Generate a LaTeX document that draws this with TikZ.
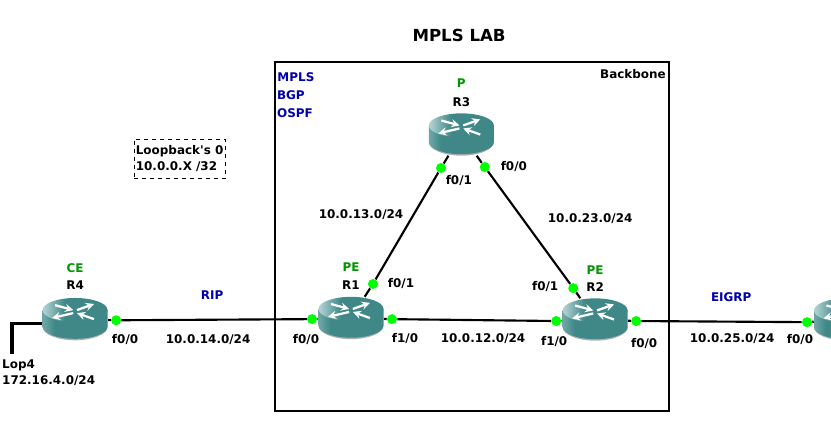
\documentclass[tikz,border=0pt]{standalone}
\usepackage{fontspec}
\setmainfont{DejaVu Sans}
\usepackage{tikz}
\usetikzlibrary{shapes.geometric, arrows}
\definecolor{routerteal}{RGB}{64,136,136}
\definecolor{routerlight}{RGB}{176,208,208}
\definecolor{routershadow}{RGB}{170,176,176}
\definecolor{protoblue}{RGB}{0,0,170}
\definecolor{rolegreen}{RGB}{0,150,0}
\pgfdeclarehorizontalshading{routertop}{100bp}{color(0bp)=(routerlight); color(26bp)=(routerlight); color(42bp)=(routerteal); color(100bp)=(routerteal)}
\pgfdeclarehorizontalshading{routerside}{100bp}{color(0bp)=(routerlight!40!routerteal); color(26bp)=(routerlight!40!routerteal); color(34bp)=(routerteal); color(100bp)=(routerteal)}
\tikzstyle{router} = [rectangle,
					  minimum width=1.72cm,
					  minimum height=1.11cm,
					  inner sep=0pt,
					 ]
\tikzstyle{port} = [circle,
					minimum size=0.265cm,
					inner sep=0pt,
					fill=green,
				   ]
\tikzstyle{lbl} = [font=\bfseries\fontsize{9}{12}\selectfont, inner sep=0pt]
\tikzstyle{proto} = [lbl, text=protoblue]
\tikzstyle{role} = [lbl, text=rolegreen]
\tikzstyle{area} = [rectangle, draw=black, line width=1.9pt,
					minimum width=10.42cm, minimum height=9.23cm]
\tikzstyle{note} = [rectangle, draw=black, dashed, thin, align=left, lbl,
					minimum width=2.41cm, minimum height=1.03cm]
\tikzstyle{link} = [line width=1.6pt]
\tikzstyle{stub} = [line width=2.4pt]
\tikzstyle{flow} = [white,line width=1.7pt,->,>=stealth]

\begin{document}
\begin{tikzpicture}[node distance=1cm]
\clip (-9.287,8.414) rectangle (12.700,-3.122);

\node (R1) [router] at (0,0) {};
\node (R4) [router, left of =R1, xshift=-6.30cm, yshift=-0.03cm] {};
\node (R2) [router, right of =R1, xshift=5.46cm, yshift=-0.04cm] {};
\node (R5) [router, right of =R2, xshift=5.65cm] {};
\node (R3) [router, above of =R1, xshift=2.92cm, yshift=3.855cm] {};
\node (backbone) [area, above of =R1, xshift=3.2cm, yshift=1.157cm] {};

\node (R4p) [port, right of =R4, xshift=0.085cm, yshift=-0.03cm] {};
\node (R1w) [port, left of =R1, xshift=-0.03cm, yshift=-0.03cm] {};
\node (R1e) [port, right of =R1, xshift=0.085cm, yshift=-0.03cm] {};
\node (R1n) [port, above of =R1, xshift=0.58cm, yshift=-0.10cm] {};
\node (R2w) [port, left of =R2, xshift=-0.03cm, yshift=-0.04cm] {};
\node (R2e) [port, right of =R2, xshift=0.085cm, yshift=-0.04cm] {};
\node (R2n) [port, above of =R2, xshift=-0.58cm, yshift=-0.17cm] {};
\node (R3w) [port, below of =R3, xshift=-0.54cm, yshift=0.114cm] {};
\node (R3e) [port, below of =R3, xshift=0.62cm, yshift=0.14cm] {};
\node (R5w) [port, left of =R5, xshift=-0.045cm, yshift=-0.07cm] {};

\node (lopcorner) [coordinate, left of =R4, xshift=-0.667cm, yshift=-0.106cm] {};
\node (lopend) [coordinate, below of =lopcorner, yshift=0.18cm] {};

\node (title) [lbl, font=\bfseries\fontsize{12.5}{15}\selectfont, above of =R1, xshift=2.86cm, yshift=6.488cm] {MPLS LAB};
\node (backbonelbl) [lbl, right of =backbone, xshift=3.26cm, yshift=4.30cm] {Backbone};
\node (mpls) [proto, left of =backbone, xshift=-3.657cm, yshift=4.22cm] {MPLS};
\node (bgp) [proto, left of =backbone, xshift=-3.79cm, yshift=3.744cm] {BGP};
\node (ospf) [proto, left of =backbone, xshift=-3.683cm, yshift=3.268cm] {OSPF};
\node (loopback) [note, above of =R4, xshift=2.765cm, yshift=3.247cm] {Loopback\textquotesingle s 0\\10.0.0.X /32};

\node (R4role) [role, above of =R4, yshift=0.35cm] {CE};
\node (R4name) [lbl, above of =R4, yshift=-0.10cm] {R4};
\node (R4f00) [lbl, right of =R4, xshift=0.323cm, yshift=-0.53cm] {f0/0};
\node (lop4) [lbl, align=left, below of =R4, xshift=-0.70cm, yshift=-0.429cm] {Lop4\\172.16.4.0/24};
\node (rip) [proto, right of =R4, xshift=2.625cm, yshift=0.635cm] {RIP};
\node (net14) [lbl, right of =R4, xshift=2.519cm, yshift=-0.53cm] {10.0.14.0/24};

\node (R1role) [role, above of =R1, yshift=0.35cm] {PE};
\node (R1name) [lbl, above of =R1, yshift=-0.127cm] {R1};
\node (R1f01) [lbl, right of =R1, xshift=0.323cm, yshift=0.90cm] {f0/1};
\node (R1f00) [lbl, left of =R1, xshift=-0.19cm, yshift=-0.556cm] {f0/0};
\node (R1f10) [lbl, right of =R1, xshift=0.429cm, yshift=-0.53cm] {f1/0};
\node (net12) [lbl, right of =R1, xshift=2.493cm, yshift=-0.556cm] {10.0.12.0/24};
\node (net13) [lbl, above of =R1, xshift=0.265cm, yshift=1.725cm] {10.0.13.0/24};

\node (R3role) [role, above of =R3, yshift=0.363cm] {P};
\node (R3name) [lbl, above of =R3, yshift=-0.14cm] {R3};
\node (R3f01) [lbl, below of =R3, xshift=-0.066cm, yshift=-0.23cm] {f0/1};
\node (R3f00) [lbl, right of =R3, xshift=0.389cm, yshift=-0.86cm] {f0/0};
\node (net23) [lbl, above of =R2, xshift=-0.132cm, yshift=1.659cm] {10.0.23.0/24};

\node (R2role) [role, above of =R2, yshift=0.31cm] {PE};
\node (R2name) [lbl, above of =R2, yshift=-0.14cm] {R2};
\node (R2f01) [lbl, left of =R2, xshift=-0.323cm, yshift=0.886cm] {f0/1};
\node (R2f10) [lbl, left of =R2, xshift=-0.085cm, yshift=-0.595cm] {f1/0};
\node (R2f00) [lbl, right of =R2, xshift=0.297cm, yshift=-0.622cm] {f0/0};
\node (eigrp) [proto, right of =R2, xshift=2.6cm, yshift=0.595cm] {EIGRP};
\node (net25) [lbl, right of =R2, xshift=2.625cm, yshift=-0.516cm] {10.0.25.0/24};
\node (R5f00) [lbl, left of =R5, xshift=-0.23cm, yshift=-0.516cm] {f0/0};

\draw [link] (R4) -- (R4p);
\draw [link] (R4p) -- (R1w);
\draw [link] (R1w) -- (R1);
\draw [link] (R1) -- (R1e);
\draw [link] (R1e) -- (R2w);
\draw [link] (R2w) -- (R2);
\draw [link] (R2) -- (R2e);
\draw [link] (R2e) -- (R5w);
\draw [link] (R5w) -- (R5);
\draw [link] (R1) -- (R1n);
\draw [link] (R1n) -- (R3w);
\draw [link] (R3w) -- (R3);
\draw [link] (R3) -- (R3e);
\draw [link] (R3e) -- (R2n);
\draw [link] (R2n) -- (R2);
\draw [stub] (R4 |- lopcorner) -- (lopcorner) -- (lopend);

% body, top face and the four arrows of each router
\foreach \r in {R1,R2,R3,R4,R5}{
	\begin{scope}[shift={(\r.center)}]
		\fill [routershadow] (-0.86,-0.20) arc (180:360:0.86cm and 0.36cm) -- cycle;
		\shade [shading=routerside] (-0.86,0.24) -- (-0.86,-0.20) arc (180:360:0.86cm and 0.32cm) -- (0.86,0.24) -- cycle;
		\shade [shading=routertop] (0,0.24) ellipse (0.86cm and 0.32cm);
		\begin{scope}[yshift=0.24cm]
			\draw [flow] (-0.53,0.13) -- (-0.05,0);
			\draw [flow] (0.05,0) -- (0.5,0.16);
			\draw [flow] (-0.05,-0.08) -- (-0.61,-0.21);
			\draw [flow] (0.5,-0.24) -- (0.05,-0.08);
		\end{scope}
	\end{scope}
}

\end{tikzpicture}
\end{document}
